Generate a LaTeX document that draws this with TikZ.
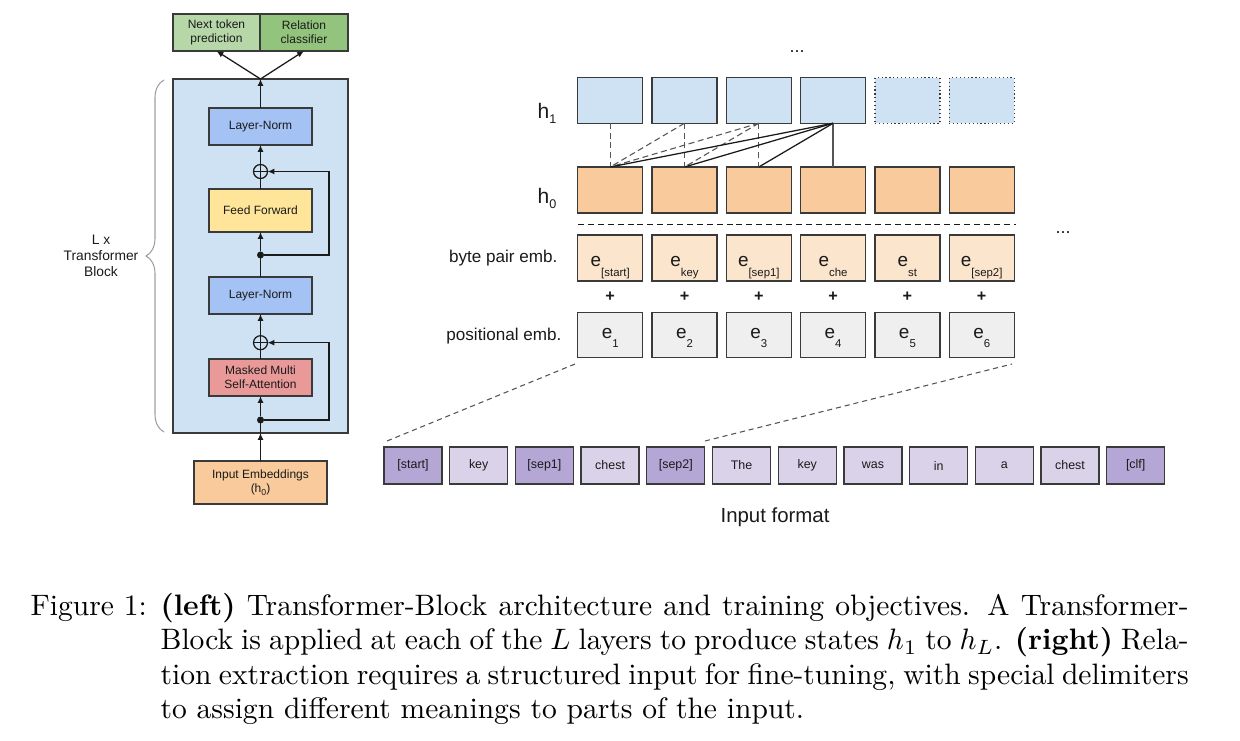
\documentclass[tikz,border=0pt]{standalone}
\usepackage{fontspec}
\newfontfamily\arial{Liberation Sans}
\usetikzlibrary{arrows.meta,decorations.pathreplacing}
\newdimen\pxu \pxu=0.33333pt
\definecolor{bord}{HTML}{3A3A3A}
\definecolor{txt}{HTML}{1A1A1A}
\definecolor{cNTP}{HTML}{B6D7A8}
\definecolor{cRC}{HTML}{93C47D}
\definecolor{cTB}{HTML}{CFE2F3}
\definecolor{cLN}{HTML}{A4C2F4}
\definecolor{cFF}{HTML}{FFE599}
\definecolor{cMM}{HTML}{EA9999}
\definecolor{cIE}{HTML}{F9CB9C}
\definecolor{cBP}{HTML}{FCE5CD}
\definecolor{cPE}{HTML}{EFEFEF}
\definecolor{tkD}{HTML}{B4A7D6}
\definecolor{tkL}{HTML}{D9D2E9}
\definecolor{dgray}{HTML}{555555}
\definecolor{bracec}{HTML}{A0A0A0}
\tikzset{
  bx/.style={draw=bord, line width=0.42pt, inner sep=0pt, outer sep=0pt, align=center, text=txt,
    font=\arial\fontsize{4pt}{4.7pt}\selectfont},
  arr/.style={-{Latex[length=2.3pt,width=2pt]}, line width=0.42pt, draw=txt},
  ln/.style={line width=0.42pt, draw=txt},
  opl/.style={circle, draw=txt, line width=0.42pt, minimum size=14\pxu, inner sep=0pt, outer sep=0pt,
    path picture={\draw[line width=0.42pt, txt] (path picture bounding box.north) -- (path picture bounding box.south)
      (path picture bounding box.west) -- (path picture bounding box.east);}},
  jdot/.style={circle, fill=txt, minimum size=7\pxu, inner sep=0pt, outer sep=0pt},
  hbox/.style={bx, minimum width=65\pxu, minimum height=45.5\pxu},
  dsh/.style={line width=0.36pt, draw=dgray, dash pattern=on 2pt off 1.2pt},
  sol/.style={line width=0.42pt, draw=txt},
  midlab/.style={font=\arial\fontsize{5.7pt}{6.8pt}\selectfont, text=txt, inner sep=0pt},
  elab/.style={font=\arial\fontsize{6.3pt}{7pt}\selectfont, text=txt, inner sep=0pt, anchor=base},
  toklab/.style={bx, minimum width=58\pxu, minimum height=37\pxu, font=\arial\fontsize{4.15pt}{4.8pt}\selectfont},
  capfont/.style={font=\fontsize{10pt}{11.7pt}\selectfont, inner sep=0pt, anchor=base west, scale=0.985, transform shape}
}
\newcommand{\esb}[1]{e\raisebox{-3.1pt}{\fontsize{3.8pt}{4pt}\selectfont #1}}
\begin{document}
\begin{tikzpicture}[x=0.33333pt, y=-0.33333pt]
\useasboundingbox (0,0) rectangle (1240,741);

% ---------------- left: transformer block ----------------
\node[bx, fill=cTB, minimum width=175\pxu, minimum height=354\pxu] (tb) at (260.5,256) {};
\node[bx, fill=cNTP, minimum width=87\pxu, minimum height=37\pxu] (ntp) at (216.5,32.5) {Next token\\prediction};
\node[bx, fill=cRC, minimum width=88\pxu, minimum height=37\pxu] (rc) at (304,32.5) {Relation\\classifier};
\node[bx, fill=cLN, minimum width=103\pxu, minimum height=37\pxu] (ln2) at (260.5,126.5) {Layer-Norm};
\node[opl] (plus2) at (260.5,171.5) {};
\node[bx, fill=cFF, minimum width=103\pxu, minimum height=43\pxu] (ff) at (260.5,210.5) {Feed Forward};
\node[jdot] (dot2) at (260.5,255) {};
\node[bx, fill=cLN, minimum width=103\pxu, minimum height=37\pxu] (ln1) at (260.5,295.5) {Layer-Norm};
\node[opl] (plus1) at (260.5,342.7) {};
\node[bx, fill=cMM, minimum width=103\pxu, minimum height=37\pxu] (mm) at (260.5,377.5) {Masked Multi\\Self-Attention};
\node[jdot] (dot1) at (260.5,420) {};
\node[bx, fill=cIE, minimum width=133\pxu, minimum height=43\pxu] (ie) at (260.5,482.5)
  {Input Embeddings\\(h\raisebox{-0.9pt}{\fontsize{2.9pt}{3pt}\selectfont 0})};

\coordinate (r1) at (329,420);
\coordinate (r2) at (329,255);

\draw[arr] (ie.north) -- (tb.south);
\draw[ln] (tb.south) -- (dot1);
\draw[arr] (dot1) -- (mm.south);
\draw[ln] (mm.north) -- (plus1.south);
\draw[arr] (plus1.north) -- (ln1.south);
\draw[ln] (ln1.north) -- (dot2);
\draw[arr] (dot2) -- (ff.south);
\draw[ln] (ff.north) -- (plus2.south);
\draw[arr] (plus2.north) -- (ln2.south);
\draw[arr] (ln2.north) -- (tb.north);
\draw[arr] (tb.north) -- (ntp.south);
\draw[arr] (tb.north) -- (rc.south);
\draw[arr] (dot1) -- (r1) |- (plus1);
\draw[arr] (dot2) -- (r2) |- (plus2);

% brace
\coordinate (bb) at (164,432);
\coordinate (bt) at (164,80);
\draw[bracec, line width=0.36pt, decorate, decoration={brace, amplitude=6pt}] (bb) -- (bt);
\node[font=\arial\fontsize{4.6pt}{5.33pt}\selectfont, align=center, text=txt, inner sep=0pt] (lxt) at (101,256)
  {L x\\Transformer\\Block};

% ---------------- right: attention & embeddings ----------------
\foreach \i in {1,...,4} {
  \node[hbox, fill=cTB] (hA\i) at ({610.2+74.3*(\i-1)},100.5) {};
}
\foreach \i in {5,6} {
  \node[hbox, fill=cTB, dash pattern=on 0.4pt off 0.9pt] (hA\i) at ({610.2+74.3*(\i-1)},100.5) {};
}
\foreach \i in {1,...,6} {
  \node[hbox, fill=cIE, minimum height=46\pxu] (hB\i) at ({610.2+74.3*(\i-1)},190) {};
  \node[hbox, fill=cBP, minimum height=46\pxu] (bp\i) at ({610.2+74.3*(\i-1)},258) {};
  \node[hbox, fill=cPE, minimum height=45\pxu] (pe\i) at ({610.2+74.3*(\i-1)},335.2) {};
  \node[font=\arial\bfseries\fontsize{5.4pt}{6pt}\selectfont, text=txt, inner sep=0pt] (pl\i) at ({610.2+74.3*(\i-1)},297) {+};
  \node[elab] (pt\i) at ({610.2+74.3*(\i-1)},338.5) {\esb{\i}};
}
\foreach \i/\s in {1/{[start]},2/key,3/{[sep1]},4/che,5/st,6/{[sep2]}} {
  \node[elab] (bt\i) at ({610.2+74.3*(\i-1)},267) {\esb{\s}};
}

% attention connections
\draw[dsh] (hA1.south) -- (hB1.north);
\draw[dsh] (hA2.south) -- (hB2.north);
\draw[dsh] (hA2.south) -- (hB1.north);
\draw[dsh] (hA3.south) -- (hB3.north);
\draw[dsh] (hA3.south) -- (hB1.north);
\draw[dsh] (hA3.south) -- (hB2.north);
\draw[sol, draw=dgray] (hA4.south) -- (hB4.north);
\draw[sol] (hA4.south) -- (hB1.north);
\draw[sol] (hA4.south) -- (hB2.north);
\draw[sol] (hA4.south) -- (hB3.north);

% separator
\coordinate (sepL) at (578,224);
\coordinate (sepR) at (1016,224);
\draw[line width=0.33pt, draw=txt, dash pattern=on 2pt off 1.3pt] (sepL) -- (sepR);

% row labels
\node[anchor=base west, font=\arial\fontsize{7pt}{8pt}\selectfont, text=txt, inner sep=0pt] (lh1) at (537,119)
  {h\raisebox{-1.4pt}{\fontsize{4.2pt}{5pt}\selectfont 1}};
\node[anchor=base west, font=\arial\fontsize{7pt}{8pt}\selectfont, text=txt, inner sep=0pt] (lh0) at (537,204)
  {h\raisebox{-1.4pt}{\fontsize{4.2pt}{5pt}\selectfont 0}};
\node[midlab, anchor=east] (lbp) at (558,258) {byte pair emb.};
\node[midlab, anchor=east] (lpe) at (562,336) {positional emb.};
\node[anchor=base, font=\arial\fontsize{6pt}{7pt}\selectfont, text=txt, inner sep=0pt] (dtop) at (797,53) {...};
\node[anchor=base, font=\arial\fontsize{6pt}{7pt}\selectfont, text=txt, inner sep=0pt] (dright) at (1063,234) {...};

% input format tokens
\foreach \i/\w/\c in {1/{[start]}/tkD,2/key/tkL,3/{[sep1]}/tkD,4/chest/tkL,5/{[sep2]}/tkD,6/The/tkL,
                      7/key/tkL,8/was/tkL,9/in/tkL,10/a/tkL,11/chest/tkL,12/{[clf]}/tkD} {
  \node[toklab, fill=\c] (tk\i) at ({413+65.7*(\i-1)},465.5) {\w};
}
\node[font=\arial\fontsize{6.8pt}{8pt}\selectfont, text=txt, inner sep=0pt] (infmt) at (775,517) {Input format};

\coordinate (zl1) at (387,441);
\coordinate (zl2) at (575,364);
\coordinate (zr1) at (705,441);
\coordinate (zr2) at (1012,364);
\draw[line width=0.36pt, draw=dgray, dash pattern=on 1.7pt off 1.3pt] (zl1) -- (zl2);
\draw[line width=0.36pt, draw=dgray, dash pattern=on 1.7pt off 1.3pt] (zr1) -- (zr2);

% ---------------- caption ----------------
\node[capfont] (figl) at (30,615) {Figure 1:};
\node[capfont] (cap) at (160,615) {\parbox[t]{347.9pt}{\textbf{(left)} Transformer-Block architecture and training objectives. A Transformer-\linebreak
Block is applied at each of the $L$ layers to produce states $h_1$ to $h_L$. \textbf{(right)} Rela-\linebreak
tion extraction requires a structured input for fine-tuning, with special delimiters\linebreak
to assign different meanings to parts of the input.}};
\end{tikzpicture}
\end{document}
